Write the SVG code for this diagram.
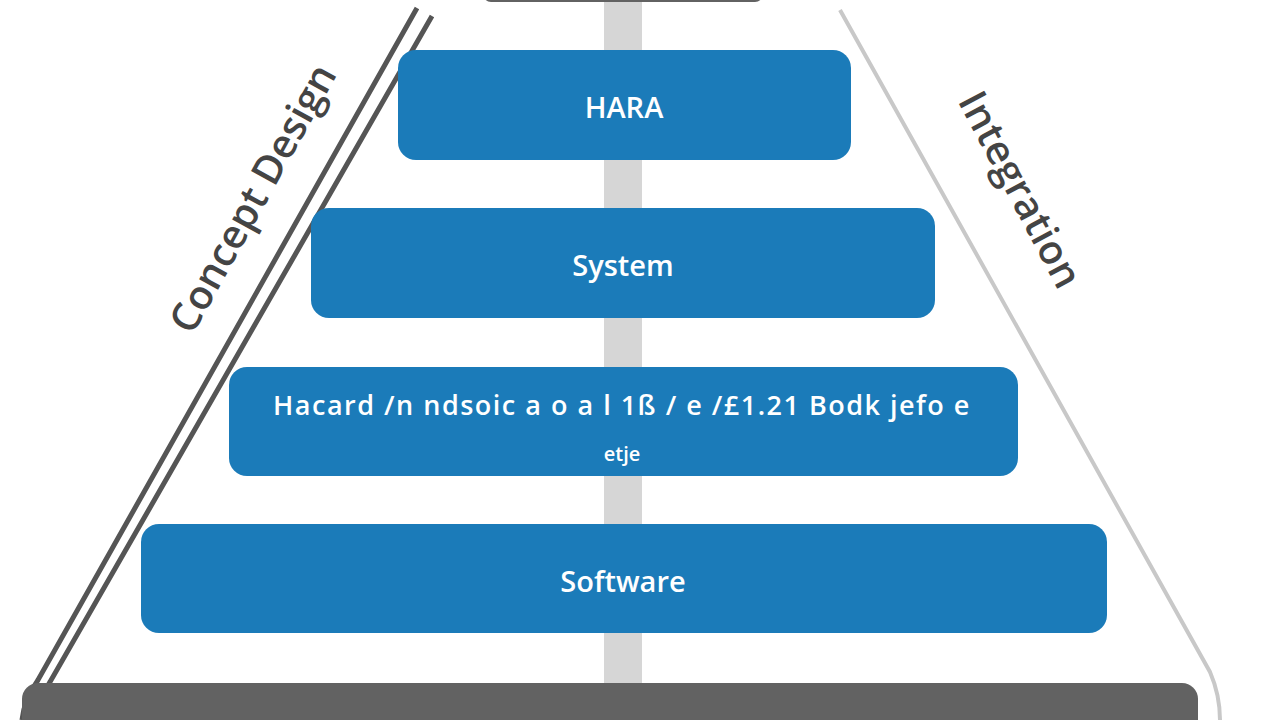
<svg xmlns="http://www.w3.org/2000/svg" width="1280" height="720" viewBox="0 0 1280 720">
<style>
.box{fill:#1b7bb9}
.dark{fill:#626262}
.t{font-family:"Open Sans","Liberation Sans",sans-serif;fill:#fff;text-anchor:middle;font-weight:600}
.side{font-family:"Open Sans","Liberation Sans",sans-serif;fill:#444;font-size:40px;text-anchor:middle;font-weight:600}
</style>
<rect width="1280" height="720" fill="#fff"/>
<g id="connectors">
<rect x="604" y="0" width="38" height="690" fill="#d6d6d6"/>
<path d="M417 8 L38 680 Q24 700 22 720" fill="none" stroke="#555" stroke-width="5"/>
<path d="M432 16 L50 682 Q38 700 36 720" fill="none" stroke="#555" stroke-width="5"/>
<path d="M840 10 L1210 672 Q1220 695 1220 720" fill="none" stroke="#c8c8c8" stroke-width="4"/>
</g>
<g id="top"><rect class="dark" x="483" y="-20" width="280" height="22" rx="8"/></g>
<g id="bottom"><rect class="dark" x="22" y="683" width="1176" height="60" rx="16"/></g>
<g id="hara"><rect class="box" x="398" y="50" width="453" height="110" rx="18"/><text class="t" x="624" y="118" font-size="29">HARA</text></g>
<g id="system"><rect class="box" x="311" y="208" width="624" height="110" rx="18"/><text class="t" x="623" y="276" font-size="29">System</text></g>
<g id="hazard"><rect class="box" x="229" y="367" width="789" height="109" rx="18"/><text class="t" x="622" y="415" font-size="27" letter-spacing="1.5">Hacard /n ndsoic a o a l 1ß / e /£1.21 Bodk jefo e</text><text class="t" x="622" y="461" font-size="20">etje</text></g>
<g id="software"><rect class="box" x="141" y="524" width="966" height="109" rx="18"/><text class="t" x="623" y="592" font-size="29">Software</text></g>
<text class="side" transform="translate(265,205) rotate(-61)">Concept Design</text>
<text class="side" transform="translate(1008,196) rotate(62)">Integration</text>
</svg>
